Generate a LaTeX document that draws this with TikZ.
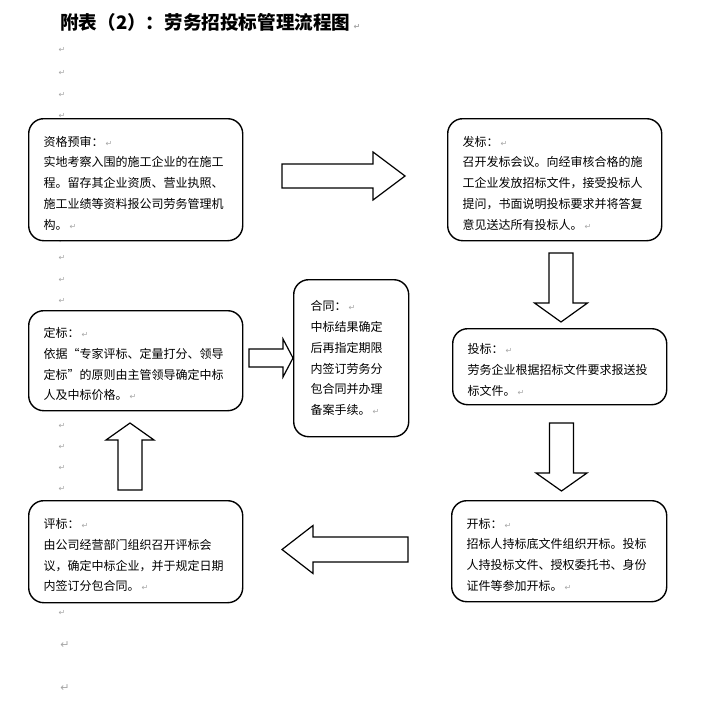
\documentclass[tikz,border=0pt]{standalone}
\usepackage{fontspec}
\setmainfont{Noto Sans CJK SC}
\newfontfamily\markfont{DejaVu Sans}
\usepackage{tikz}
\tikzstyle{stage}=[draw,fill=white,line width=1.4pt,rounded corners=15pt,align=left,anchor=north west,inner xsep=15pt,inner ysep=0pt,font=\fontsize{12pt}{20.8pt}\selectfont]
\tikzstyle{blockarrow}=[draw,fill=white,line width=1.2pt,line join=miter]
\tikzstyle{pmark}=[text=black!35,font=\markfont\fontsize{8pt}{8pt}\selectfont,inner sep=0pt]
\newcommand{\retmark}{\,{\color{black!35}\markfont\fontsize{8pt}{8pt}\selectfont ↵}}
\newcommand{\topgap}{\rule{0pt}{17pt}}

\begin{document}
\begin{tikzpicture}[x=1pt,y=-1pt]
    \useasboundingbox (0,0) rectangle (707,707);
    \node[anchor=west,inner sep=0pt,font=\bfseries\fontsize{18.6pt}{20pt}\selectfont] (title) at (60,22) {附表（2）：劳务招投标管理流程图\retmark};

    % paragraph marks down the left margin
    \foreach \y [count=\i] in {50,73,95,116,241,258,280,301,426,447,468,489,613}
        \node[pmark] (mark\i) at (62,\y) {↵};
    \foreach \y [count=\i] in {645,688}
        \node[pmark,font=\markfont\fontsize{11pt}{11pt}\selectfont] (bigmark\i) at (65,\y) {↵};

    \node[stage,text width=184pt,minimum height=122pt] (zgys) at (28,118) {\topgap 资格预审：\retmark\\实地考察入围的施工企业的在施工\\程。留存其企业资质、营业执照、\\施工业绩等资料报公司劳务管理机\\构。\retmark};
    \node[stage,text width=184pt,minimum height=122pt] (fb) at (447,118) {\topgap 发标：\retmark\\召开发标会议。向经审核合格的施\\工企业发放招标文件，接受投标人\\提问，书面说明投标要求并将答复\\意见送达所有投标人。\retmark};
    \node[stage,text width=184pt,minimum height=76pt] (tb) at (452,328) {\topgap 投标：\retmark\\劳务企业根据招标文件要求报送投\\标文件。\retmark};
    \node[stage,text width=185pt,minimum height=101pt] (kb) at (451,500) {\topgap 开标：\retmark\\招标人持标底文件组织开标。投标\\人持投标文件、授权委托书、身份\\证件等参加开标。\retmark};
    \node[stage,text width=184pt,minimum height=102pt] (pb) at (28,500) {\topgap 评标：\retmark\\由公司经营部门组织召开评标会\\议，确定中标企业，并于规定日期\\内签订分包合同。\retmark};
    \node[stage,text width=184pt,minimum height=100pt] (db) at (28,310) {\topgap 定标：\retmark\\依据“专家评标、定量打分、领导\\定标”的原则由主管领导确定中标\\人及中标价格。\retmark};
    \node[stage,inner xsep=17pt,text width=81pt,minimum height=157pt] (ht) at (293,279) {合同：\retmark\\中标结果确定\\后再指定期限\\内签订劳务分\\包合同并办理\\备案手续。\retmark};

    % block arrows: tail / tip / head base / centre / shaft half / head half
    \foreach \xa/\xb/\xh/\yc/\sw/\hw in {282/405/373/176/12/24, 249/293/283/358/9/19, 408/282/313/549.5/12.5/24}
        \draw[blockarrow] (\xa,{\yc-\sw}) -- (\xh,{\yc-\sw}) -- (\xh,{\yc-\hw}) -- (\xb,\yc) -- (\xh,{\yc+\hw}) -- (\xh,{\yc+\sw}) -- (\xa,{\yc+\sw}) -- cycle;
    \foreach \ya/\yb/\yh/\xc/\sw/\hw in {253/322/303/561/12/26.5, 423/491/473/561.5/12/25.5, 490/423/440/130/12/24}
        \draw[blockarrow] ({\xc-\sw},\ya) -- ({\xc-\sw},\yh) -- ({\xc-\hw},\yh) -- (\xc,\yb) -- ({\xc+\hw},\yh) -- ({\xc+\sw},\yh) -- ({\xc+\sw},\ya) -- cycle;
\end{tikzpicture}
\end{document}
